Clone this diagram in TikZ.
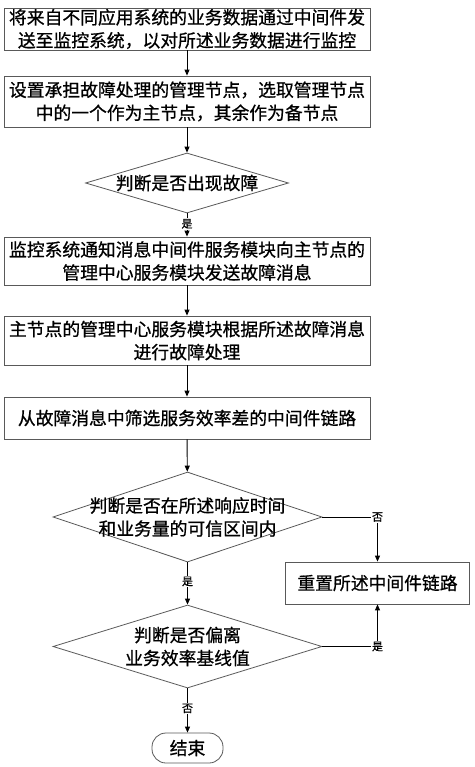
\documentclass[tikz,border=0pt]{standalone}
\usepackage{fontspec}
\setmainfont{Noto Sans CJK SC}[FakeBold=0.8,AutoFakeBold=0.8]
\usetikzlibrary{shapes.geometric,arrows.meta}
\begin{document}
\begin{tikzpicture}[x=1pt,y=-1pt,
  stepbox/.style={draw=black!65,line width=0.8pt,rectangle,minimum width=366pt,inner sep=0pt,align=center,font=\fontsize{17.8}{23}\selectfont\bfseries},
  decide/.style={draw=black!65,line width=0.8pt,diamond,inner sep=0pt},
  dtext/.style={align=center,inner sep=0pt,font=\fontsize{17.8}{23}\selectfont\bfseries},
  endbox/.style={draw=black!65,line width=0.8pt,rounded corners=14pt,minimum width=71pt,minimum height=30pt,inner sep=0pt,font=\fontsize{17.8}{23}\selectfont\bfseries},
  flow/.style={line width=0.9pt,-{Triangle[length=6pt,width=5pt]}},
  lab/.style={fill=white,inner sep=1pt,font=\fontsize{11}{12}\selectfont\bfseries}]
\path[use as bounding box,fill=white] (0,0) rectangle (474,767);
\node[stepbox,minimum height=42pt] (b1) at (187,29) {将来自不同应用系统的业务数据通过中间件发\\送至监控系统，以对所述业务数据进行监控};
\node[stepbox,minimum height=51pt] (b2) at (187,101.5) {设置承担故障处理的管理节点，选取管理节点\\中的一个作为主节点，其余作为备节点};
\node[decide,minimum width=203pt,minimum height=60pt] (d1) at (187,183) {};
\node[dtext] (d1t) at (d1) {判断是否出现故障};
\node[stepbox,minimum height=48pt] (b3) at (187,261) {监控系统通知消息中间件服务模块向主节点的\\管理中心服务模块发送故障消息};
\node[stepbox,minimum height=49pt] (b4) at (187,340.5) {主节点的管理中心服务模块根据所述故障消息\\进行故障处理};
\node[stepbox,minimum height=42pt] (b5) at (187,418) {从故障消息中筛选服务效率差的中间件链路};
\node[decide,minimum width=269pt,minimum height=90pt] (d2) at (187.5,517) {};
\node[dtext] (d2t) at (d2) {判断是否在所述响应时间\\和业务量的可信区间内};
\node[stepbox,minimum width=184pt,minimum height=42pt] (b6) at (377.5,583) {重置所述中间件链路};
\node[decide,minimum width=269pt,minimum height=83pt] (d3) at (187.5,646.5) {};
\node[dtext] (d3t) at (d3) {判断是否偏离\\业务效率基线值};
\node[endbox] (e) at (187.5,748) {结束};
\draw[flow] (b1) -- (b2);
\draw[flow] (b2) -- (d1);
\draw[flow] (d1) -- node[lab,pos=0.45] (l1) {是} (b3);
\draw[flow] (b3) -- (b4);
\draw[flow] (b4) -- (b5);
\draw[flow] (b5) -- (d2);
\draw[flow] (d2) -- node[lab,pos=0.45] (l2) {是} (d3);
\draw[flow] (d3) -- node[lab,pos=0.45] (l3) {否} (e);
\draw[flow] (d2.east) -| node[lab,pos=0.5] (l4) {否} (b6.north);
\draw[flow] (d3.east) -| node[lab,pos=0.5] (l5) {是} (b6.south);
\end{tikzpicture}
\end{document}
